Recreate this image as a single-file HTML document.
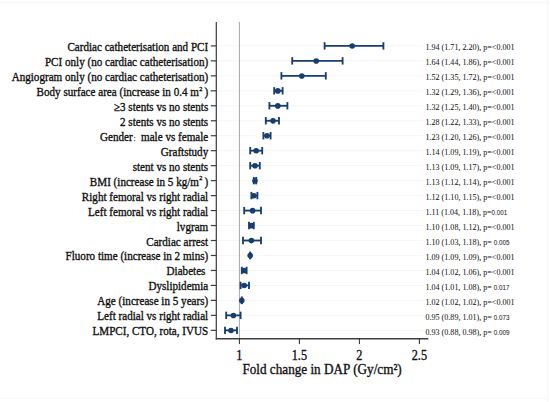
<!DOCTYPE html>
<html><head><meta charset="utf-8"><style>
html,body{margin:0;padding:0;background:#fff;}
svg{display:block;}
text{font-family:"Liberation Serif", serif;fill:#111;stroke:#111;stroke-width:0.32px;}
text.r{stroke-width:0.05px;fill:#222;stroke:#222;}
</style></head><body>
<svg width="550" height="402" viewBox="0 0 550 402">
<rect x="0" y="1" width="550" height="3" fill="#fbfbfb"/>
<rect x="547" y="0" width="1.2" height="402" fill="#f7f7f7"/>
<rect x="0" y="397.5" width="548" height="1.5" fill="#fafafa"/>
<line x1="216.3" y1="45.90" x2="423" y2="45.90" stroke="#f5f5f5" stroke-width="1"/>
<line x1="216.3" y1="60.87" x2="423" y2="60.87" stroke="#f5f5f5" stroke-width="1"/>
<line x1="216.3" y1="75.84" x2="423" y2="75.84" stroke="#f5f5f5" stroke-width="1"/>
<line x1="216.3" y1="90.81" x2="423" y2="90.81" stroke="#f5f5f5" stroke-width="1"/>
<line x1="216.3" y1="105.78" x2="423" y2="105.78" stroke="#f5f5f5" stroke-width="1"/>
<line x1="216.3" y1="120.75" x2="423" y2="120.75" stroke="#f5f5f5" stroke-width="1"/>
<line x1="216.3" y1="135.72" x2="423" y2="135.72" stroke="#f5f5f5" stroke-width="1"/>
<line x1="216.3" y1="150.69" x2="423" y2="150.69" stroke="#f5f5f5" stroke-width="1"/>
<line x1="216.3" y1="165.66" x2="423" y2="165.66" stroke="#f5f5f5" stroke-width="1"/>
<line x1="216.3" y1="180.63" x2="423" y2="180.63" stroke="#f5f5f5" stroke-width="1"/>
<line x1="216.3" y1="195.60" x2="423" y2="195.60" stroke="#f5f5f5" stroke-width="1"/>
<line x1="216.3" y1="210.57" x2="423" y2="210.57" stroke="#f5f5f5" stroke-width="1"/>
<line x1="216.3" y1="225.54" x2="423" y2="225.54" stroke="#f5f5f5" stroke-width="1"/>
<line x1="216.3" y1="240.51" x2="423" y2="240.51" stroke="#f5f5f5" stroke-width="1"/>
<line x1="216.3" y1="255.48" x2="423" y2="255.48" stroke="#f5f5f5" stroke-width="1"/>
<line x1="216.3" y1="270.45" x2="423" y2="270.45" stroke="#f5f5f5" stroke-width="1"/>
<line x1="216.3" y1="285.42" x2="423" y2="285.42" stroke="#f5f5f5" stroke-width="1"/>
<line x1="216.3" y1="300.39" x2="423" y2="300.39" stroke="#f5f5f5" stroke-width="1"/>
<line x1="216.3" y1="315.36" x2="423" y2="315.36" stroke="#f5f5f5" stroke-width="1"/>
<line x1="216.3" y1="330.33" x2="423" y2="330.33" stroke="#f5f5f5" stroke-width="1"/>
<line x1="239.4" y1="22" x2="239.4" y2="338.7" stroke="#9c9c9c" stroke-width="0.9"/>
<line x1="216.3" y1="22" x2="216.3" y2="339.4" stroke="#3c3c3c" stroke-width="1.2"/>
<line x1="215.70000000000002" y1="338.7" x2="428.3" y2="338.7" stroke="#3e3e3e" stroke-width="1.4"/>
<line x1="210.8" y1="45.90" x2="216.3" y2="45.90" stroke="#3c3c3c" stroke-width="1.2"/>
<text transform="translate(208.2,50.90) scale(1,1.08)" text-anchor="end" font-size="11.1">Cardiac catheterisation and PCI</text>
<line x1="324.60" y1="45.90" x2="383.40" y2="45.90" stroke="#173e6f" stroke-width="1.85"/>
<line x1="324.60" y1="42.20" x2="324.60" y2="49.60" stroke="#173e6f" stroke-width="1.85"/>
<line x1="383.40" y1="42.20" x2="383.40" y2="49.60" stroke="#173e6f" stroke-width="1.85"/>
<circle cx="352.20" cy="46.00" r="2.8" fill="#173e6f"/>
<text class="r" transform="translate(425.5,50.20) scale(1,1.05)" font-size="8.08">1.94 (1.71, 2.20), p=&lt;0.001</text>
<line x1="210.8" y1="60.87" x2="216.3" y2="60.87" stroke="#3c3c3c" stroke-width="1.2"/>
<text transform="translate(208.2,65.87) scale(1,1.08)" text-anchor="end" font-size="11.1">PCI only (no cardiac catheterisation)</text>
<line x1="292.20" y1="60.87" x2="342.60" y2="60.87" stroke="#173e6f" stroke-width="1.85"/>
<line x1="292.20" y1="57.17" x2="292.20" y2="64.57" stroke="#173e6f" stroke-width="1.85"/>
<line x1="342.60" y1="57.17" x2="342.60" y2="64.57" stroke="#173e6f" stroke-width="1.85"/>
<circle cx="316.20" cy="60.97" r="2.8" fill="#173e6f"/>
<text class="r" transform="translate(425.5,65.17) scale(1,1.05)" font-size="8.08">1.64 (1.44, 1.86), p=&lt;0.001</text>
<line x1="210.8" y1="75.84" x2="216.3" y2="75.84" stroke="#3c3c3c" stroke-width="1.2"/>
<text transform="translate(208.2,80.84) scale(1,1.08)" text-anchor="end" font-size="11.1">Angiogram only (no cardiac catheterisation)</text>
<line x1="281.40" y1="75.84" x2="325.80" y2="75.84" stroke="#173e6f" stroke-width="1.85"/>
<line x1="281.40" y1="72.14" x2="281.40" y2="79.54" stroke="#173e6f" stroke-width="1.85"/>
<line x1="325.80" y1="72.14" x2="325.80" y2="79.54" stroke="#173e6f" stroke-width="1.85"/>
<circle cx="301.80" cy="75.94" r="2.8" fill="#173e6f"/>
<text class="r" transform="translate(425.5,80.14) scale(1,1.05)" font-size="8.08">1.52 (1.35, 1.72), p=&lt;0.001</text>
<line x1="210.8" y1="90.81" x2="216.3" y2="90.81" stroke="#3c3c3c" stroke-width="1.2"/>
<text transform="translate(208.2,95.81) scale(1,1.08)" text-anchor="end" font-size="11.1">Body surface area (increase in 0.4 m<tspan dy='-4.8' dx='0.4' font-size='6.3'>2</tspan><tspan dy='4.8' dx='2'>)</tspan></text>
<line x1="274.20" y1="90.81" x2="282.60" y2="90.81" stroke="#173e6f" stroke-width="1.85"/>
<line x1="274.20" y1="87.11" x2="274.20" y2="94.51" stroke="#173e6f" stroke-width="1.85"/>
<line x1="282.60" y1="87.11" x2="282.60" y2="94.51" stroke="#173e6f" stroke-width="1.85"/>
<circle cx="277.80" cy="90.91" r="2.8" fill="#173e6f"/>
<text class="r" transform="translate(425.5,95.11) scale(1,1.05)" font-size="8.08">1.32 (1.29, 1.36), p=&lt;0.001</text>
<line x1="210.8" y1="105.78" x2="216.3" y2="105.78" stroke="#3c3c3c" stroke-width="1.2"/>
<text transform="translate(208.2,110.78) scale(1,1.08)" text-anchor="end" font-size="11.1">≥3 stents vs no stents</text>
<line x1="269.40" y1="105.78" x2="287.40" y2="105.78" stroke="#173e6f" stroke-width="1.85"/>
<line x1="269.40" y1="102.08" x2="269.40" y2="109.48" stroke="#173e6f" stroke-width="1.85"/>
<line x1="287.40" y1="102.08" x2="287.40" y2="109.48" stroke="#173e6f" stroke-width="1.85"/>
<circle cx="277.80" cy="105.88" r="2.8" fill="#173e6f"/>
<text class="r" transform="translate(425.5,110.08) scale(1,1.05)" font-size="8.08">1.32 (1.25, 1.40), p=&lt;0.001</text>
<line x1="210.8" y1="120.75" x2="216.3" y2="120.75" stroke="#3c3c3c" stroke-width="1.2"/>
<text transform="translate(208.2,125.75) scale(1,1.08)" text-anchor="end" font-size="11.1">2 stents vs no stents</text>
<line x1="265.80" y1="120.75" x2="279.00" y2="120.75" stroke="#173e6f" stroke-width="1.85"/>
<line x1="265.80" y1="117.05" x2="265.80" y2="124.45" stroke="#173e6f" stroke-width="1.85"/>
<line x1="279.00" y1="117.05" x2="279.00" y2="124.45" stroke="#173e6f" stroke-width="1.85"/>
<circle cx="273.00" cy="120.85" r="2.8" fill="#173e6f"/>
<text class="r" transform="translate(425.5,125.05) scale(1,1.05)" font-size="8.08">1.28 (1.22, 1.33), p=&lt;0.001</text>
<line x1="210.8" y1="135.72" x2="216.3" y2="135.72" stroke="#3c3c3c" stroke-width="1.2"/>
<text transform="translate(208.2,140.72) scale(1,1.08)" text-anchor="end" font-size="11.1">Gender<tspan dx='0.8' font-size='8' style='fill:#555;stroke:#555' dy='0.6'>:</tspan><tspan dx='5.4' dy='-0.6'>male vs female</tspan></text>
<line x1="263.40" y1="135.72" x2="270.60" y2="135.72" stroke="#173e6f" stroke-width="1.85"/>
<line x1="263.40" y1="132.02" x2="263.40" y2="139.42" stroke="#173e6f" stroke-width="1.85"/>
<line x1="270.60" y1="132.02" x2="270.60" y2="139.42" stroke="#173e6f" stroke-width="1.85"/>
<circle cx="267.00" cy="135.82" r="2.8" fill="#173e6f"/>
<text class="r" transform="translate(425.5,140.02) scale(1,1.05)" font-size="8.08">1.23 (1.20, 1.26), p=&lt;0.001</text>
<line x1="210.8" y1="150.69" x2="216.3" y2="150.69" stroke="#3c3c3c" stroke-width="1.2"/>
<text transform="translate(208.2,155.69) scale(1,1.08)" text-anchor="end" font-size="11.1">Graftstudy</text>
<line x1="250.20" y1="150.69" x2="262.20" y2="150.69" stroke="#173e6f" stroke-width="1.85"/>
<line x1="250.20" y1="146.99" x2="250.20" y2="154.39" stroke="#173e6f" stroke-width="1.85"/>
<line x1="262.20" y1="146.99" x2="262.20" y2="154.39" stroke="#173e6f" stroke-width="1.85"/>
<circle cx="256.20" cy="150.79" r="2.8" fill="#173e6f"/>
<text class="r" transform="translate(425.5,154.99) scale(1,1.05)" font-size="8.08">1.14 (1.09, 1.19), p=&lt;0.001</text>
<line x1="210.8" y1="165.66" x2="216.3" y2="165.66" stroke="#3c3c3c" stroke-width="1.2"/>
<text transform="translate(208.2,170.66) scale(1,1.08)" text-anchor="end" font-size="11.1">stent vs no stents</text>
<line x1="250.20" y1="165.66" x2="259.80" y2="165.66" stroke="#173e6f" stroke-width="1.85"/>
<line x1="250.20" y1="161.96" x2="250.20" y2="169.36" stroke="#173e6f" stroke-width="1.85"/>
<line x1="259.80" y1="161.96" x2="259.80" y2="169.36" stroke="#173e6f" stroke-width="1.85"/>
<circle cx="255.00" cy="165.76" r="2.8" fill="#173e6f"/>
<text class="r" transform="translate(425.5,169.96) scale(1,1.05)" font-size="8.08">1.13 (1.09, 1.17), p=&lt;0.001</text>
<line x1="210.8" y1="180.63" x2="216.3" y2="180.63" stroke="#3c3c3c" stroke-width="1.2"/>
<text transform="translate(208.2,185.63) scale(1,1.08)" text-anchor="end" font-size="11.1">BMI (increase in 5 kg/m<tspan dy='-4.8' dx='0.4' font-size='6.3'>2</tspan><tspan dy='4.8' dx='2'>)</tspan></text>
<line x1="253.80" y1="180.63" x2="256.20" y2="180.63" stroke="#173e6f" stroke-width="1.85"/>
<line x1="253.80" y1="176.93" x2="253.80" y2="184.33" stroke="#173e6f" stroke-width="1.85"/>
<line x1="256.20" y1="176.93" x2="256.20" y2="184.33" stroke="#173e6f" stroke-width="1.85"/>
<circle cx="255.00" cy="180.73" r="2.8" fill="#173e6f"/>
<text class="r" transform="translate(425.5,184.93) scale(1,1.05)" font-size="8.08">1.13 (1.12, 1.14), p=&lt;0.001</text>
<line x1="210.8" y1="195.60" x2="216.3" y2="195.60" stroke="#3c3c3c" stroke-width="1.2"/>
<text transform="translate(208.2,200.60) scale(1,1.08)" text-anchor="end" font-size="11.1">Right femoral vs right radial</text>
<line x1="251.40" y1="195.60" x2="257.40" y2="195.60" stroke="#173e6f" stroke-width="1.85"/>
<line x1="251.40" y1="191.90" x2="251.40" y2="199.30" stroke="#173e6f" stroke-width="1.85"/>
<line x1="257.40" y1="191.90" x2="257.40" y2="199.30" stroke="#173e6f" stroke-width="1.85"/>
<circle cx="253.80" cy="195.70" r="2.8" fill="#173e6f"/>
<text class="r" transform="translate(425.5,199.90) scale(1,1.05)" font-size="8.08">1.12 (1.10, 1.15), p=&lt;0.001</text>
<line x1="210.8" y1="210.57" x2="216.3" y2="210.57" stroke="#3c3c3c" stroke-width="1.2"/>
<text transform="translate(208.2,215.57) scale(1,1.08)" text-anchor="end" font-size="11.1">Left femoral vs right radial</text>
<line x1="244.20" y1="210.57" x2="261.00" y2="210.57" stroke="#173e6f" stroke-width="1.85"/>
<line x1="244.20" y1="206.87" x2="244.20" y2="214.27" stroke="#173e6f" stroke-width="1.85"/>
<line x1="261.00" y1="206.87" x2="261.00" y2="214.27" stroke="#173e6f" stroke-width="1.85"/>
<circle cx="252.60" cy="210.67" r="2.8" fill="#173e6f"/>
<text class="r" transform="translate(425.5,214.87) scale(1,1.05)" font-size="8.08">1.11 (1.04, 1.18), p=<tspan font-family="Liberation Sans, sans-serif" font-size="6.3">0.001</tspan></text>
<line x1="210.8" y1="225.54" x2="216.3" y2="225.54" stroke="#3c3c3c" stroke-width="1.2"/>
<text transform="translate(208.2,230.54) scale(1,1.08)" text-anchor="end" font-size="11.1">lvgram</text>
<line x1="249.00" y1="225.54" x2="253.80" y2="225.54" stroke="#173e6f" stroke-width="1.85"/>
<line x1="249.00" y1="221.84" x2="249.00" y2="229.24" stroke="#173e6f" stroke-width="1.85"/>
<line x1="253.80" y1="221.84" x2="253.80" y2="229.24" stroke="#173e6f" stroke-width="1.85"/>
<circle cx="251.40" cy="225.64" r="2.8" fill="#173e6f"/>
<text class="r" transform="translate(425.5,229.84) scale(1,1.05)" font-size="8.08">1.10 (1.08, 1.12), p=&lt;0.001</text>
<line x1="210.8" y1="240.51" x2="216.3" y2="240.51" stroke="#3c3c3c" stroke-width="1.2"/>
<text transform="translate(208.2,245.51) scale(1,1.08)" text-anchor="end" font-size="11.1">Cardiac arrest</text>
<line x1="243.00" y1="240.51" x2="261.00" y2="240.51" stroke="#173e6f" stroke-width="1.85"/>
<line x1="243.00" y1="236.81" x2="243.00" y2="244.21" stroke="#173e6f" stroke-width="1.85"/>
<line x1="261.00" y1="236.81" x2="261.00" y2="244.21" stroke="#173e6f" stroke-width="1.85"/>
<circle cx="251.40" cy="240.61" r="2.8" fill="#173e6f"/>
<text class="r" transform="translate(425.5,244.81) scale(1,1.05)" font-size="8.08">1.10 (1.03, 1.18), p= <tspan font-family="Liberation Sans, sans-serif" font-size="6.3">0.005</tspan></text>
<line x1="210.8" y1="255.48" x2="216.3" y2="255.48" stroke="#3c3c3c" stroke-width="1.2"/>
<text transform="translate(208.2,260.48) scale(1,1.08)" text-anchor="end" font-size="11.1">Fluoro time (increase in 2 mins)</text>
<line x1="250.20" y1="255.48" x2="250.20" y2="255.48" stroke="#173e6f" stroke-width="1.85"/>
<line x1="250.20" y1="251.78" x2="250.20" y2="259.18" stroke="#173e6f" stroke-width="1.85"/>
<line x1="250.20" y1="251.78" x2="250.20" y2="259.18" stroke="#173e6f" stroke-width="1.85"/>
<circle cx="250.20" cy="255.58" r="2.8" fill="#173e6f"/>
<text class="r" transform="translate(425.5,259.78) scale(1,1.05)" font-size="8.08">1.09 (1.09, 1.09), p=&lt;0.001</text>
<line x1="210.8" y1="270.45" x2="216.3" y2="270.45" stroke="#3c3c3c" stroke-width="1.2"/>
<text transform="translate(208.2,275.45) scale(1,1.08)" text-anchor="end" font-size="11.1">Diabetes&#160;</text>
<line x1="241.80" y1="270.45" x2="246.60" y2="270.45" stroke="#173e6f" stroke-width="1.85"/>
<line x1="241.80" y1="266.75" x2="241.80" y2="274.15" stroke="#173e6f" stroke-width="1.85"/>
<line x1="246.60" y1="266.75" x2="246.60" y2="274.15" stroke="#173e6f" stroke-width="1.85"/>
<circle cx="244.20" cy="270.55" r="2.8" fill="#173e6f"/>
<text class="r" transform="translate(425.5,274.75) scale(1,1.05)" font-size="8.08">1.04 (1.02, 1.06), p=&lt;0.001</text>
<line x1="210.8" y1="285.42" x2="216.3" y2="285.42" stroke="#3c3c3c" stroke-width="1.2"/>
<text transform="translate(208.2,290.42) scale(1,1.08)" text-anchor="end" font-size="11.1">Dyslipidemia</text>
<line x1="240.60" y1="285.42" x2="249.00" y2="285.42" stroke="#173e6f" stroke-width="1.85"/>
<line x1="240.60" y1="281.72" x2="240.60" y2="289.12" stroke="#173e6f" stroke-width="1.85"/>
<line x1="249.00" y1="281.72" x2="249.00" y2="289.12" stroke="#173e6f" stroke-width="1.85"/>
<circle cx="244.20" cy="285.52" r="2.8" fill="#173e6f"/>
<text class="r" transform="translate(425.5,289.72) scale(1,1.05)" font-size="8.08">1.04 (1.01, 1.08), p= <tspan font-family="Liberation Sans, sans-serif" font-size="6.3">0.017</tspan></text>
<line x1="210.8" y1="300.39" x2="216.3" y2="300.39" stroke="#3c3c3c" stroke-width="1.2"/>
<text transform="translate(208.2,305.39) scale(1,1.08)" text-anchor="end" font-size="11.1">Age (increase in 5 years)</text>
<line x1="241.80" y1="300.39" x2="241.80" y2="300.39" stroke="#173e6f" stroke-width="1.85"/>
<line x1="241.80" y1="296.69" x2="241.80" y2="304.09" stroke="#173e6f" stroke-width="1.85"/>
<line x1="241.80" y1="296.69" x2="241.80" y2="304.09" stroke="#173e6f" stroke-width="1.85"/>
<circle cx="241.80" cy="300.49" r="2.8" fill="#173e6f"/>
<text class="r" transform="translate(425.5,304.69) scale(1,1.05)" font-size="8.08">1.02 (1.02, 1.02), p=&lt;0.001</text>
<line x1="210.8" y1="315.36" x2="216.3" y2="315.36" stroke="#3c3c3c" stroke-width="1.2"/>
<text transform="translate(208.2,320.36) scale(1,1.08)" text-anchor="end" font-size="11.1">Left radial vs right radial</text>
<line x1="226.20" y1="315.36" x2="240.60" y2="315.36" stroke="#173e6f" stroke-width="1.85"/>
<line x1="226.20" y1="311.66" x2="226.20" y2="319.06" stroke="#173e6f" stroke-width="1.85"/>
<line x1="240.60" y1="311.66" x2="240.60" y2="319.06" stroke="#173e6f" stroke-width="1.85"/>
<circle cx="233.40" cy="315.46" r="2.8" fill="#173e6f"/>
<text class="r" transform="translate(425.5,319.66) scale(1,1.05)" font-size="8.08">0.95 (0.89, 1.01), p= <tspan font-family="Liberation Sans, sans-serif" font-size="6.3">0.073</tspan></text>
<line x1="210.8" y1="330.33" x2="216.3" y2="330.33" stroke="#3c3c3c" stroke-width="1.2"/>
<text transform="translate(208.2,335.33) scale(1,1.08)" text-anchor="end" font-size="11.1">LMPCI, CTO, rota, IVUS</text>
<line x1="225.00" y1="330.33" x2="237.00" y2="330.33" stroke="#173e6f" stroke-width="1.85"/>
<line x1="225.00" y1="326.63" x2="225.00" y2="334.03" stroke="#173e6f" stroke-width="1.85"/>
<line x1="237.00" y1="326.63" x2="237.00" y2="334.03" stroke="#173e6f" stroke-width="1.85"/>
<circle cx="231.00" cy="330.43" r="2.8" fill="#173e6f"/>
<text class="r" transform="translate(425.5,334.63) scale(1,1.05)" font-size="8.08">0.93 (0.88, 0.98), p= <tspan font-family="Liberation Sans, sans-serif" font-size="6.3">0.009</tspan></text>
<line x1="239.4" y1="338.7" x2="239.4" y2="344.09999999999997" stroke="#2a2a2a" stroke-width="1"/>
<text transform="translate(239.4,359.7) scale(1,1.12)" text-anchor="middle" font-size="12.3">1</text>
<line x1="299.4" y1="338.7" x2="299.4" y2="344.09999999999997" stroke="#2a2a2a" stroke-width="1"/>
<text transform="translate(299.4,359.7) scale(1,1.12)" text-anchor="middle" font-size="12.3">1.5</text>
<line x1="359.4" y1="338.7" x2="359.4" y2="344.09999999999997" stroke="#2a2a2a" stroke-width="1"/>
<text transform="translate(359.4,359.7) scale(1,1.12)" text-anchor="middle" font-size="12.3">2</text>
<line x1="419.4" y1="338.7" x2="419.4" y2="344.09999999999997" stroke="#2a2a2a" stroke-width="1"/>
<text transform="translate(419.4,359.7) scale(1,1.12)" text-anchor="middle" font-size="12.3">2.5</text>
<text transform="translate(242.4,374.3) scale(1,1.03)" font-size="13.2">Fold change in DAP (Gy/cm²)</text>
</svg>
</body></html>
